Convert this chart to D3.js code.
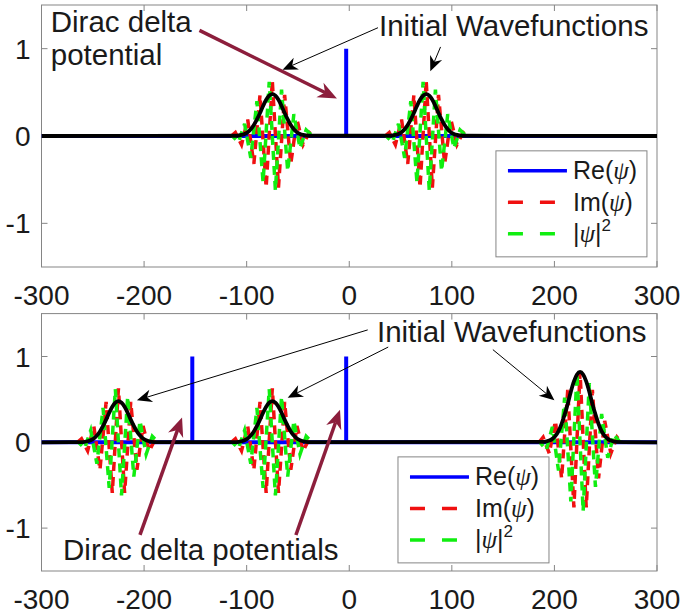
<!DOCTYPE html>
<html lang="en">
<head>
<meta charset="utf-8">
<title>Dirac delta potentials</title>
<script src="https://d3js.org/d3.v7.min.js"></script>
<style>
  body { margin: 0; background: #fff; }
  text { font-family: "Liberation Sans", Arial, Helvetica, sans-serif; fill: #1a1a1a; }
</style>
</head>
<body>
<script>
// ticks shared by both panels
const xTicks = [-300, -200, -100, 0, 100, 200, 300];
const yTicks = [-1, 0, 1];

// delta spikes (height 1) in each panel
const topDeltas = [-3];
const bottomDeltas = [-153, -3];

// wave packet centres and which profile each one uses
const topCentres = [-75, 75];
const topShapes = ["low", "low"];
const bottomCentres = [-225, -75, 225];
const bottomShapes = ["low", "low", "high"];

// |psi|^2 profile (black), offsets from the packet centre
const densityDx = [-35, -30, -27, -24, -21, -18, -15, -12, -9, -6, -3, 0, 3, 6, 9, 12, 15, 18, 21, 24, 27, 30, 35];
const densityLow = [0.003, 0.012, 0.024, 0.044, 0.078, 0.126, 0.19, 0.264, 0.344, 0.414, 0.462, 0.48, 0.462, 0.414, 0.344, 0.264, 0.19, 0.126, 0.078, 0.044, 0.024, 0.012, 0.003];
const densityHigh = [0.005, 0.02, 0.04, 0.075, 0.13, 0.215, 0.325, 0.45, 0.59, 0.71, 0.79, 0.82, 0.79, 0.71, 0.59, 0.45, 0.325, 0.215, 0.13, 0.075, 0.04, 0.02, 0.005];

// red dashed curve: turning points
const redDx = [-40, -36, -30, -24, -18, -12, -6, 0, 6, 12, 18, 24, 30, 36, 40];
const redLow = [0, 0.04, -0.10, 0.19, -0.32, 0.47, -0.59, 0.63, -0.59, 0.47, -0.32, 0.19, -0.10, 0.04, 0];
const redHigh = [0, 0.06, -0.13, 0.25, -0.42, 0.61, -0.76, 0.82, -0.76, 0.61, -0.42, 0.25, -0.13, 0.06, 0];

// green dashed curve
const greenDx = [-39, -33, -27, -21, -15, -9, -3, 3, 9, 15, 21, 27, 33, 39];
const greenLow = [0, -0.07, 0.14, -0.25, 0.40, -0.53, 0.62, -0.62, 0.53, -0.40, 0.25, -0.14, 0.07, 0];
const greenHigh = [0, -0.09, 0.18, -0.33, 0.52, -0.69, 0.80, -0.80, 0.69, -0.52, 0.33, -0.18, 0.09, 0];

// annotations, in data coordinates
const topArrowFrom = [[-146, 1.21], [28, 1.24], [89, 1.02]];
const topArrowTo = [[-12, 0.43], [-65, 0.76], [79, 0.74]];
const topArrowKind = ["maroon", "black", "black"];
const bottomArrowFrom = [[18, 1.31], [38, 1.11], [140, 1.08], [-204, -1.08], [-52, -1.08]];
const bottomArrowTo = [[-207, 0.49], [-60, 0.52], [200, 0.49], [-163, 0.29], [-9, 0.38]];
const bottomArrowKind = ["black", "black", "black", "maroon", "maroon"];
const topLabels = ["Dirac delta", "potential", "Initial Wavefunctions"];
const topLabelPos = [[-291, 1.19], [-291, 0.81], [29, 1.145]];
const bottomLabels = ["Initial Wavefunctions", "Dirac delta potentials"];
const bottomLabelPos = [[27, 1.17], [-279, -1.37]];

// legend corner (left, top) in data coordinates
const topLegend = [143, -0.17];
const bottomLegend = [47.5, -0.17];

const profiles = {
  low: { density: densityLow, red: redLow, green: greenLow },
  high: { density: densityHigh, red: redHigh, green: greenHigh }
};

const width = 685, height = 616;
const svg = d3.select("body").append("svg")
  .attr("width", width).attr("height", height);

function drawArrow(g, x1, y1, x2, y2, kind) {
  const color = kind === "maroon" ? "#8c1e3c" : "#000";
  const lw = kind === "maroon" ? 3.5 : 1;
  const hl = kind === "maroon" ? 19 : 15;
  const hw = kind === "maroon" ? 8 : 6.5;
  const L = Math.hypot(x2 - x1, y2 - y1);
  const ux = (x2 - x1) / L, uy = (y2 - y1) / L;
  const nx = -uy, ny = ux;
  const bx = x2 - ux * hl, by = y2 - uy * hl;
  const mx = x2 - ux * hl * 0.7, my = y2 - uy * hl * 0.7;
  g.append("line")
    .attr("x1", x1).attr("y1", y1).attr("x2", mx).attr("y2", my)
    .attr("stroke", color).attr("stroke-width", lw);
  g.append("path")
    .attr("d", `M${x2},${y2}L${bx + nx * hw},${by + ny * hw}L${mx},${my}L${bx - nx * hw},${by - ny * hw}Z`)
    .attr("fill", color);
}

function drawPanel(id, top, bottom, deltas, centres, shapes, arrowFrom, arrowTo, arrowKind, labels, labelPos, legendPos) {
  const x = d3.scaleLinear().domain([-300, 300]).range([41.5, 657]);
  const y = d3.scaleLinear().domain([-1.5, 1.5]).range([bottom, top]);
  const g = svg.append("g");

  g.append("clipPath").attr("id", "clip" + id)
    .append("rect").attr("x", x(-300)).attr("y", top)
    .attr("width", x(300) - x(-300)).attr("height", bottom - top);

  // axes box and ticks
  g.append("rect")
    .attr("x", x(-300)).attr("y", top)
    .attr("width", x(300) - x(-300)).attr("height", bottom - top)
    .attr("fill", "none").attr("stroke", "#858585").attr("stroke-width", 1);
  xTicks.forEach(t => {
    g.append("line").attr("x1", x(t)).attr("x2", x(t)).attr("y1", bottom).attr("y2", bottom - 6)
      .attr("stroke", "#858585");
    g.append("line").attr("x1", x(t)).attr("x2", x(t)).attr("y1", top).attr("y2", top + 6)
      .attr("stroke", "#858585");
    g.append("text").attr("x", x(t)).attr("y", bottom + 37.5)
      .attr("text-anchor", "middle").attr("font-size", 28).text(t);
  });
  yTicks.forEach(t => {
    g.append("line").attr("x1", x(-300)).attr("x2", x(-300) + 6).attr("y1", y(t)).attr("y2", y(t))
      .attr("stroke", "#858585");
    g.append("line").attr("x1", x(300)).attr("x2", x(300) - 6).attr("y1", y(t)).attr("y2", y(t))
      .attr("stroke", "#858585");
    g.append("text").attr("x", x(-300) - 11).attr("y", y(t) + 10)
      .attr("text-anchor", "end").attr("font-size", 28).text(t);
  });

  const plot = g.append("g").attr("clip-path", `url(#clip${id})`);
  const line = d3.line().x(d => x(d[0])).y(d => y(d[1]));

  // blue: potential with delta spikes
  const blue = [[-300, 0]];
  deltas.forEach(d => { blue.push([d, 0], [d, 1], [d, 0]); });
  blue.push([300, 0]);
  plot.append("path").attr("d", line(blue))
    .attr("fill", "none").attr("stroke", "#0000ff").attr("stroke-width", 4);

  // red and green oscillating parts
  centres.forEach((c, i) => {
    const p = profiles[shapes[i]];
    plot.append("path").attr("d", line(redDx.map((dx, j) => [c + dx, p.red[j]])))
      .attr("fill", "none").attr("stroke", "#f01010").attr("stroke-width", 3.5)
      .attr("stroke-dasharray", "9,6");
    plot.append("path").attr("d", line(greenDx.map((dx, j) => [c + dx, p.green[j]])))
      .attr("fill", "none").attr("stroke", "#10ee10").attr("stroke-width", 3.5)
      .attr("stroke-dasharray", "9,6").attr("stroke-dashoffset", 4);
  });

  // black: probability density
  const black = [[-300, 0]];
  centres.forEach((c, i) => {
    const p = profiles[shapes[i]];
    densityDx.forEach((dx, j) => black.push([c + dx, p.density[j]]));
  });
  black.push([300, 0]);
  plot.append("path").attr("d", line.curve(d3.curveMonotoneX)(black))
    .attr("fill", "none").attr("stroke", "#000").attr("stroke-width", 3.8);
  line.curve(d3.curveLinear);

  // annotations
  arrowFrom.forEach((f, i) => {
    drawArrow(g, x(f[0]), y(f[1]), x(arrowTo[i][0]), y(arrowTo[i][1]), arrowKind[i]);
  });
  labels.forEach((s, i) => {
    g.append("text").attr("x", x(labelPos[i][0])).attr("y", y(labelPos[i][1]))
      .attr("font-size", 29.5).text(s);
  });

  // legend
  const lg = g.append("g").attr("transform", `translate(${x(legendPos[0])},${y(legendPos[1])})`);
  lg.append("rect").attr("width", 151).attr("height", 106)
    .attr("fill", "#fff").attr("stroke", "#858585").attr("stroke-width", 1);
  const rows = [
    { c: "#0000ff", dash: null, label: "Re" },
    { c: "#f01010", dash: "15,17", label: "Im" },
    { c: "#10ee10", dash: "15,17", label: "abs" }
  ];
  const rowY = [20, 51.5, 83];
  rows.forEach((r, i) => {
    lg.append("line").attr("x1", 12).attr("x2", 71).attr("y1", rowY[i]).attr("y2", rowY[i])
      .attr("stroke", r.c).attr("stroke-width", 3.5)
      .attr("stroke-dasharray", r.dash);
    const t = lg.append("text").attr("x", 77).attr("y", rowY[i] + 8.5).attr("font-size", 25);
    if (r.label === "abs") {
      t.append("tspan").text("|");
      t.append("tspan").attr("font-family", "Liberation Serif, serif").attr("font-style", "italic").text("ψ");
      t.append("tspan").text("|");
      t.append("tspan").attr("dy", -11).attr("font-size", 17).text("2");
    } else {
      t.append("tspan").text(r.label + "(");
      t.append("tspan").attr("font-family", "Liberation Serif, serif").attr("font-style", "italic").text("ψ");
      t.append("tspan").text(")");
    }
  });
}

drawPanel("top", 5, 267, topDeltas, topCentres, topShapes,
  topArrowFrom, topArrowTo, topArrowKind, topLabels, topLabelPos, topLegend);
drawPanel("bottom", 313.6, 571, bottomDeltas, bottomCentres, bottomShapes,
  bottomArrowFrom, bottomArrowTo, bottomArrowKind, bottomLabels, bottomLabelPos, bottomLegend);
</script>
</body>
</html>
